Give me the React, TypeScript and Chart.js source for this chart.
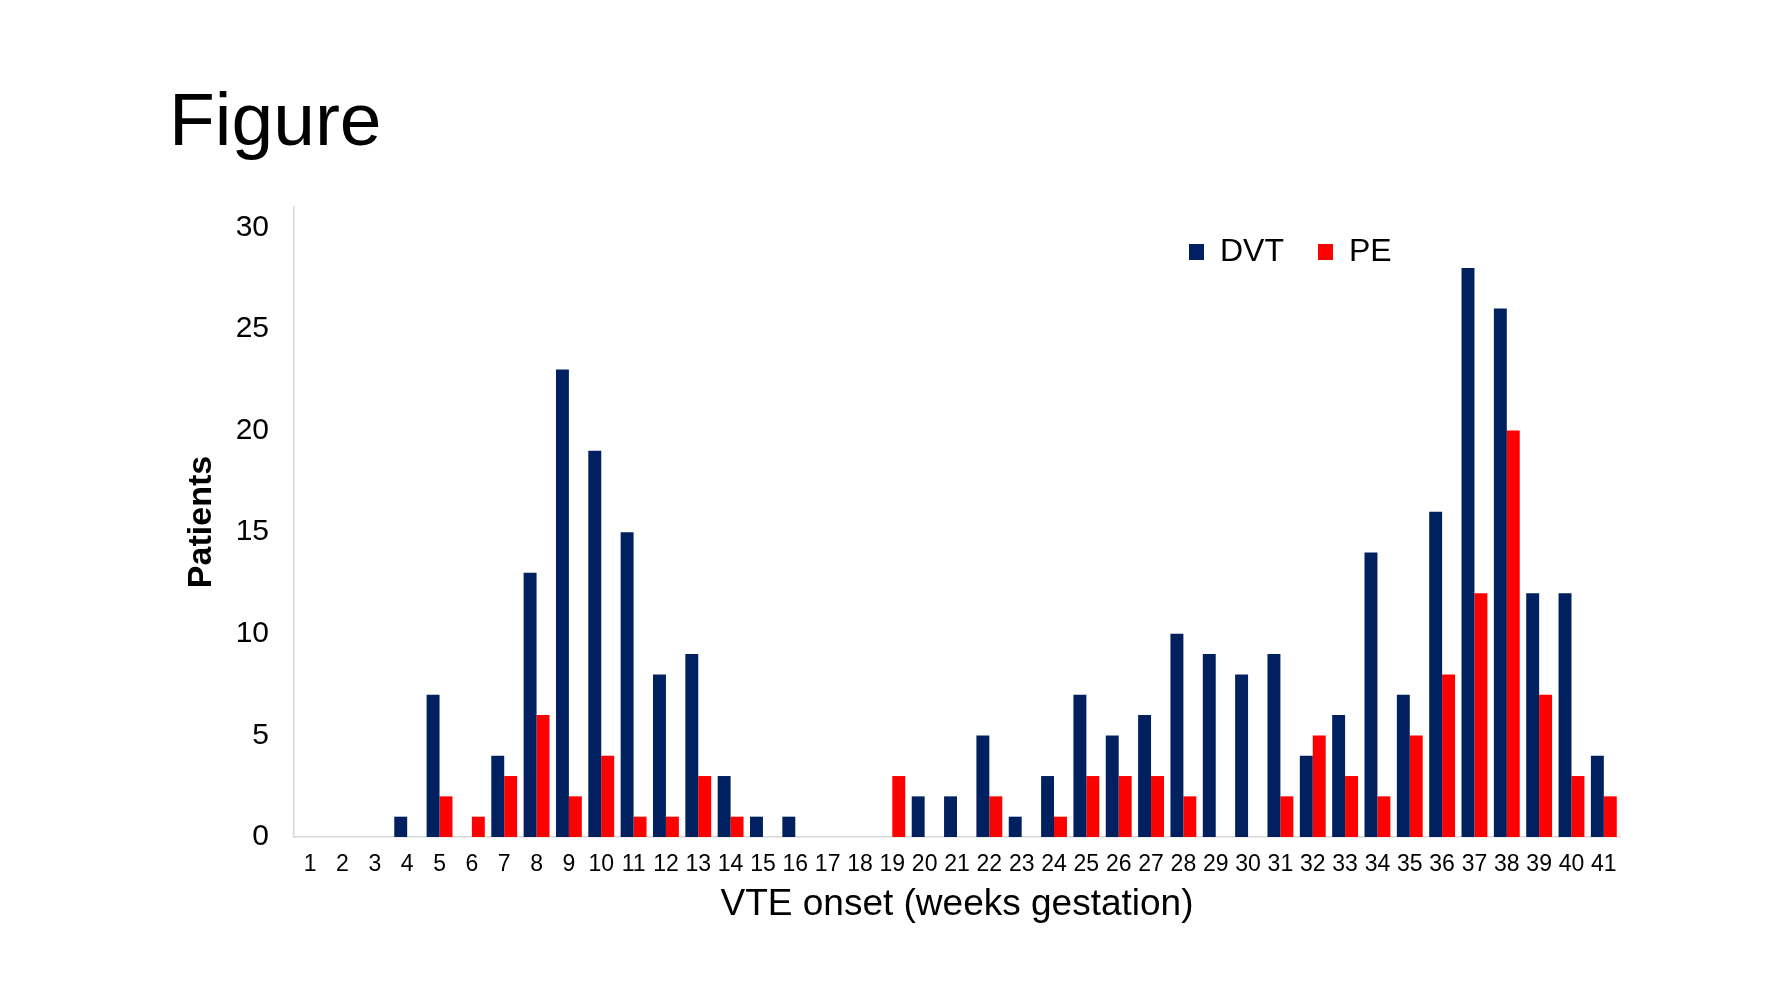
import React, { useEffect, useRef } from "react";
import { Chart, registerables } from "chart.js";

Chart.register(...registerables);

const weeks = [
  "1", "2", "3", "4", "5", "6", "7", "8", "9", "10",
  "11", "12", "13", "14", "15", "16", "17", "18", "19", "20",
  "21", "22", "23", "24", "25", "26", "27", "28", "29", "30",
  "31", "32", "33", "34", "35", "36", "37", "38", "39", "40", "41",
];
const dvt = [
  0, 0, 0, 1, 7, 0, 4, 13, 23, 19,
  15, 8, 9, 3, 1, 1, 0, 0, 0, 2,
  2, 5, 1, 3, 7, 5, 6, 10, 9, 8,
  9, 4, 6, 14, 7, 16, 28, 26, 12, 12, 4,
];
const pe = [
  0, 0, 0, 0, 2, 1, 3, 6, 2, 4,
  1, 1, 3, 1, 0, 0, 0, 0, 3, 0,
  0, 2, 0, 1, 3, 3, 3, 2, 0, 0,
  2, 5, 3, 2, 5, 8, 12, 20, 7, 3, 2,
];
const yTicks = [0, 5, 10, 15, 20, 25, 30];

const FONT = "'Liberation Sans', Arial, Helvetica, sans-serif";

export default function App() {
  const ref = useRef<HTMLCanvasElement | null>(null);

  useEffect(() => {
    document.body.style.margin = "0";
    const canvas = ref.current;
    if (!canvas) return;

    const legendPlacer = {
      id: "legendPlacer",
      afterLayout(chart: any) {
        const lg = chart.legend;
        if (!lg) return;
        const pad = lg.options.labels.padding;
        const ca = chart.chartArea;
        lg.left = ca.left + 895 - pad;
        lg.top = ca.top + 29 - pad;
        lg.right = lg.left + 600;
        lg.bottom = lg.top + 100;
      },
    };

    const chart = new Chart(canvas, {
      type: "bar",
      data: {
        labels: weeks,
        datasets: [
          {
            label: "DVT",
            data: dvt,
            backgroundColor: "#002060",
            borderWidth: 0,
            categoryPercentage: 0.8,
            barPercentage: 1.0,
          },
          {
            label: "PE",
            data: pe,
            backgroundColor: "#FF0000",
            borderWidth: 0,
            categoryPercentage: 0.8,
            barPercentage: 1.0,
          },
        ],
      },
      options: {
        animation: false,
        responsive: true,
        maintainAspectRatio: false,
        layout: { padding: { left: 169, right: 158, top: 0, bottom: 0 } },
        plugins: {
          title: {
            display: true,
            text: "Figure",
            align: "start",
            color: "#000",
            font: { family: FONT, size: 75, weight: "normal" },
            padding: { top: 79, bottom: 37 },
          },
          legend: {
            display: true,
            position: "top",
            align: "start",
            maxHeight: 1,
            labels: {
              color: "#000",
              font: { family: FONT, size: 32 },
              boxWidth: 15,
              boxHeight: 16,
              padding: 34,
            },
          },
          tooltip: { enabled: false },
        },
        scales: {
          x: {
            grid: { display: false, drawTicks: false },
            border: { display: true, color: "#D9D9D9", width: 1.5 },
            ticks: {
              color: "#000",
              font: { family: FONT, size: 23 },
              padding: 14,
              maxRotation: 0,
              autoSkip: false,
            },
            title: {
              display: true,
              text: "VTE onset (weeks gestation)",
              color: "#000",
              font: { family: FONT, size: 37 },
              padding: { top: 0, bottom: 73 },
            },
            afterFit: (s: any) => {
              s.height = 163;
            },
          },
          y: {
            min: 0,
            max: 31,
            grid: { display: false, drawTicks: false },
            border: { display: true, color: "#D9D9D9", width: 1.5 },
            ticks: {
              color: "#000",
              font: { family: FONT, size: 30 },
              padding: 25,
            },
            afterBuildTicks: (axis: any) => {
              axis.ticks = yTicks.map((v) => ({ value: v }));
            },
            title: {
              display: true,
              text: "Patients",
              color: "#000",
              font: { family: FONT, size: 34, weight: "bold" },
              padding: { top: 12, bottom: 0 },
            },
            afterFit: (s: any) => {
              s.width = 125;
            },
          },
        },
      },
      plugins: [legendPlacer],
    });

    return () => chart.destroy();
  }, []);

  return (
    <div style={{ position: "relative", width: "1778px", height: "1000px" }}>
      <canvas ref={ref} />
    </div>
  );
}
